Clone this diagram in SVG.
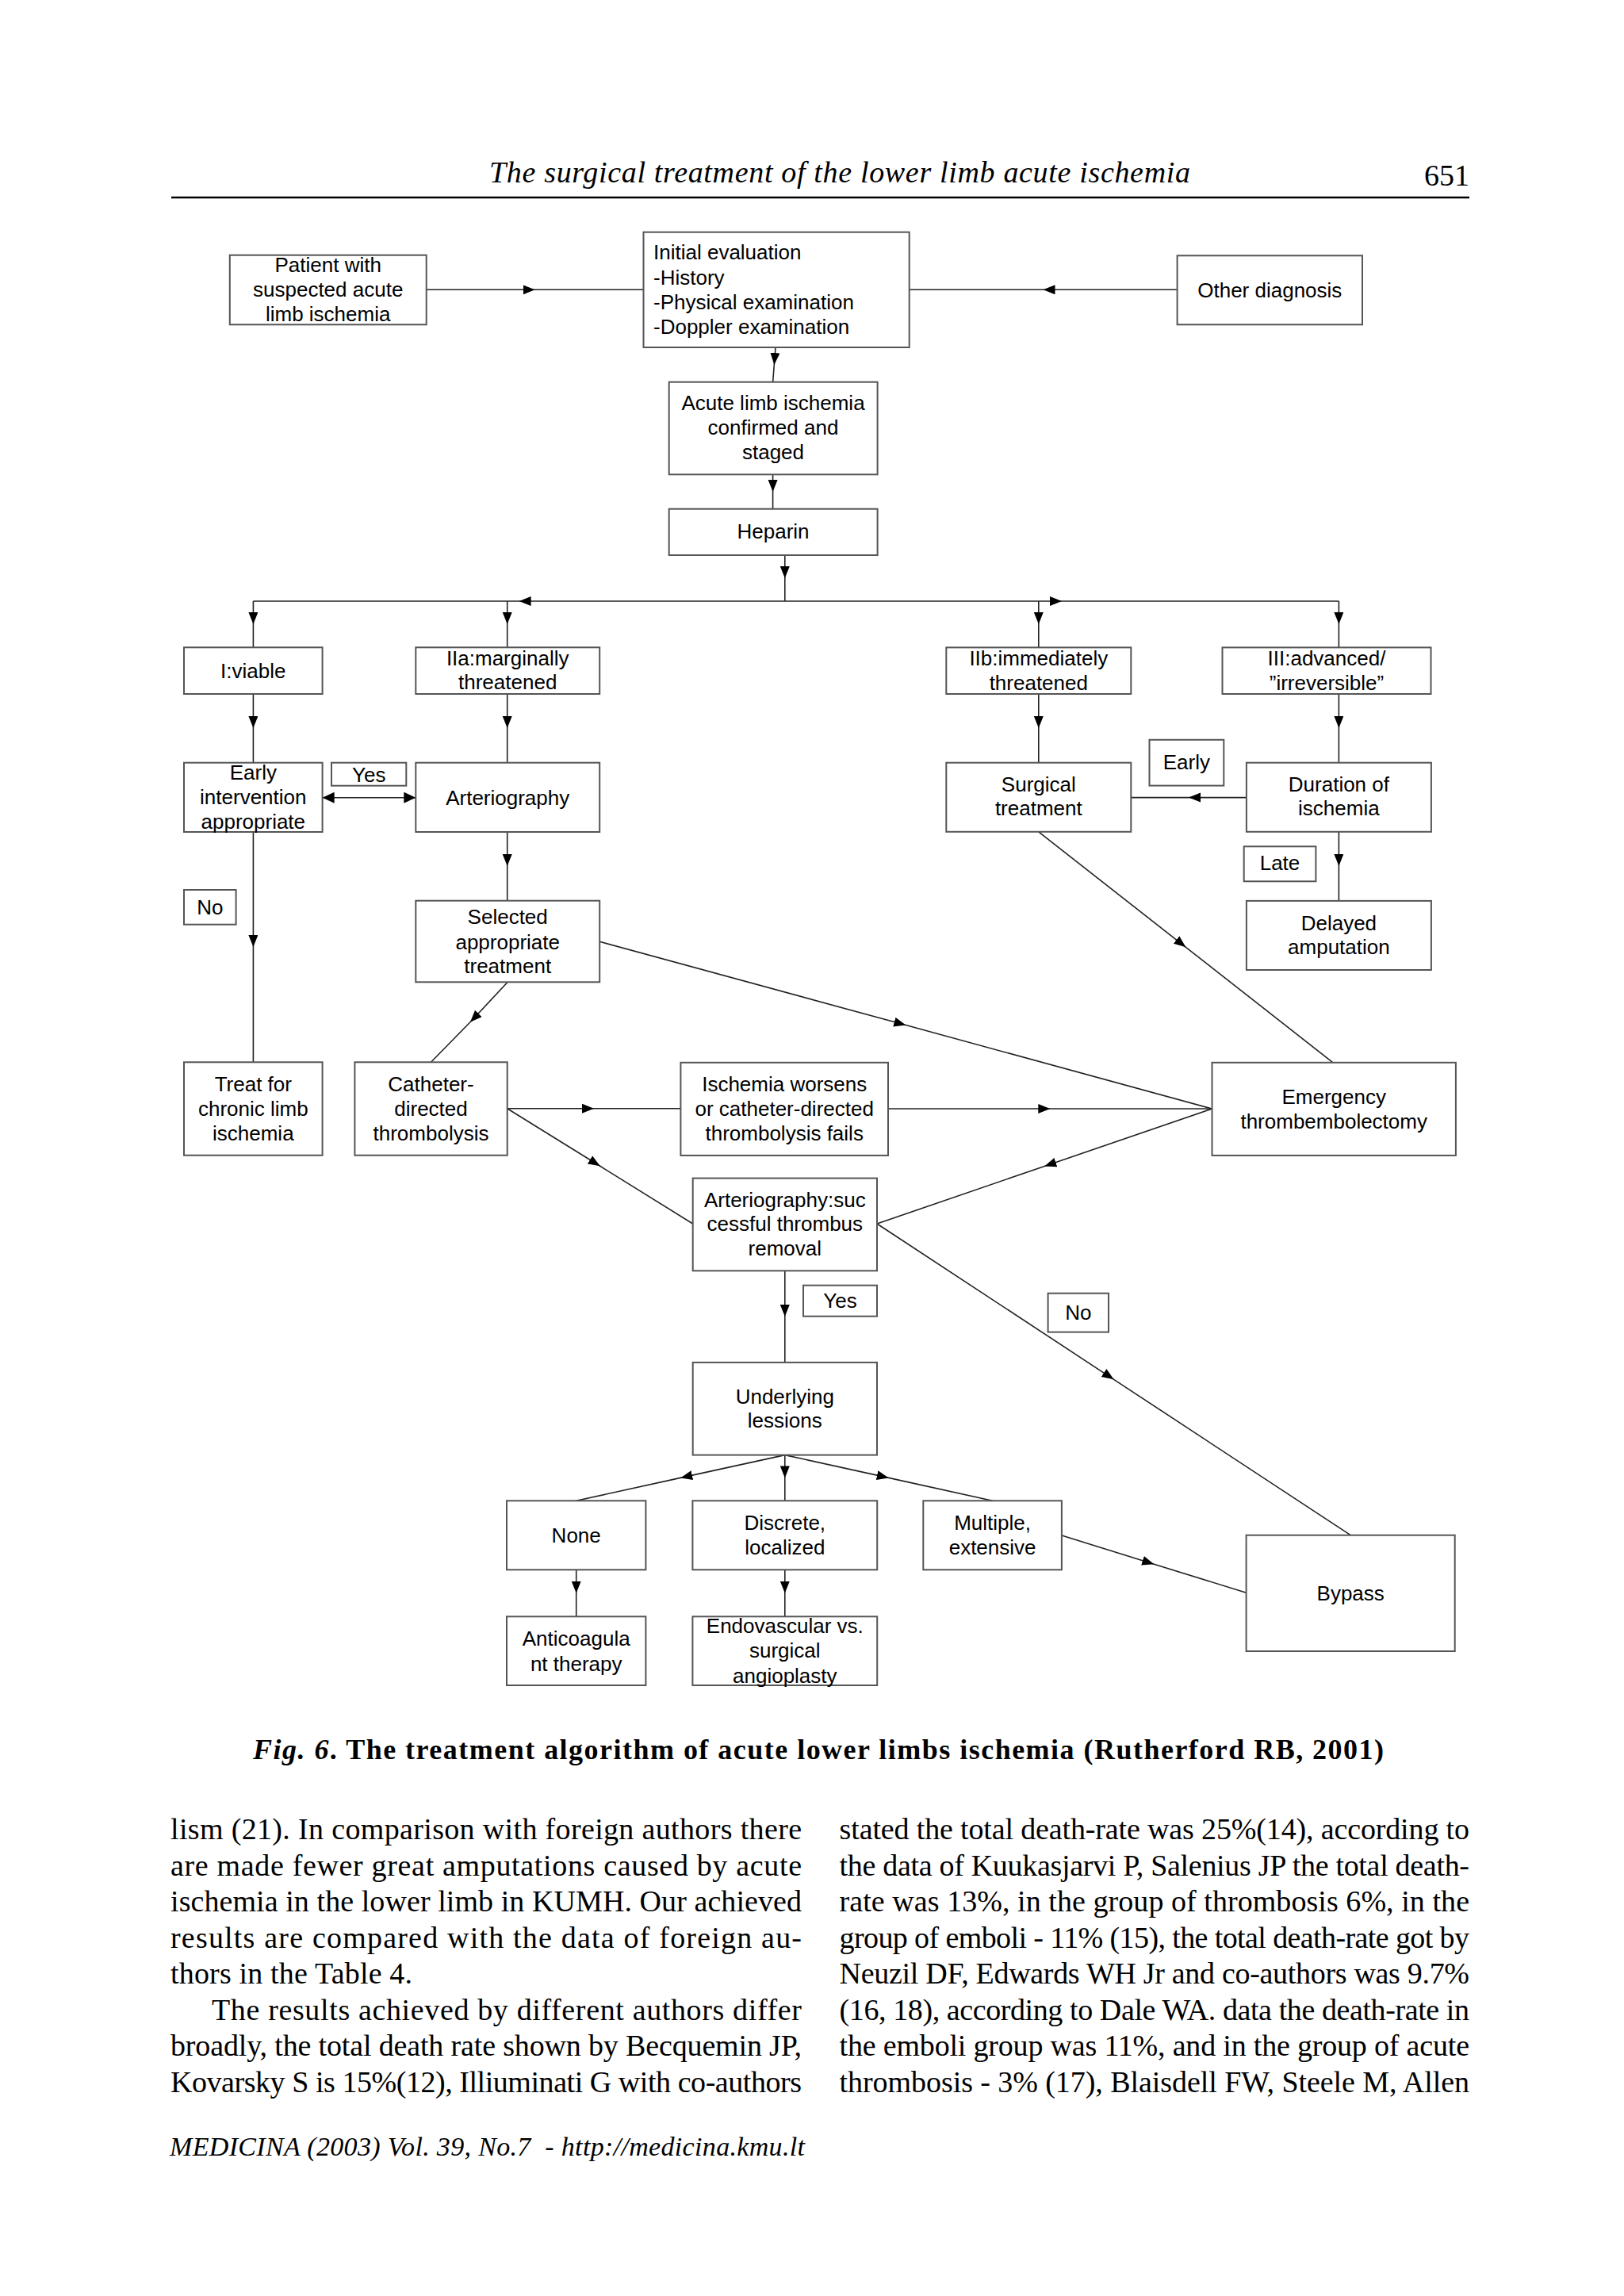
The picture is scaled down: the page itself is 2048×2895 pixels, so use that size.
<svg xmlns="http://www.w3.org/2000/svg" width="2048" height="2895" viewBox="0 0 2048 2895">
<style>
.box{fill:#fff;stroke:#555;stroke-width:2}
.c{fill:none;stroke:#222;stroke-width:1.6;marker-mid:url(#ah)}
.t{font-family:"Liberation Sans",Arial,sans-serif;font-size:26px;text-anchor:middle;fill:#000}
.tl{font-family:"Liberation Sans",Arial,sans-serif;font-size:26px;text-anchor:start;fill:#000}
.body{font-family:"Liberation Serif","Times New Roman",serif;font-size:38px;fill:#000}
</style>
<defs>
<marker id="ah" markerUnits="userSpaceOnUse" markerWidth="16" markerHeight="13" refX="15" refY="6" orient="auto"><path d="M0,0 L15,6 L0,12 z" fill="#000"/></marker>
<marker id="ah2" markerUnits="userSpaceOnUse" markerWidth="16" markerHeight="15" refX="15" refY="7" orient="auto-start-reverse"><path d="M0,0 L15,7 L0,14 z" fill="#000"/></marker>
</defs>
<rect width="2048" height="2895" fill="#fff"/>

<g id="page-header">
<text x="617" y="230" textLength="884" lengthAdjust="spacing" style="font-family:'Liberation Serif','Times New Roman',serif;font-style:italic;font-size:38px">The surgical treatment of the lower limb acute ischemia</text>
<text x="1853" y="234" text-anchor="end" style="font-family:'Liberation Serif','Times New Roman',serif;font-size:38px">651</text>
<line x1="216" y1="249" x2="1853" y2="249" stroke="#000" stroke-width="2.5"/>
</g>

<g id="connectors">
<path class="c" d="M537.7,365.3 L674.6,365.3 L811.5,365.3"/>
<path class="c" d="M1484.6,365.3 L1315.5,365.3 L1146.6,365.3"/>
<path class="c" d="M978,438 L976.3,460 L974.6,481.7"/>
<path class="c" d="M974.6,598.3 L974.6,620 L974.6,641.7"/>
<path class="c" d="M989.8,700 L989.8,729 L989.8,758"/>
<path class="c" d="M989.8,758 L654.6,758 L319.4,758"/>
<path class="c" d="M989.8,758 L1339,758 L1688.4,758"/>
<path class="c" d="M319.4,758 L319.4,787 L319.4,816.3"/>
<path class="c" d="M639.7,758 L639.7,787 L639.7,816.3"/>
<path class="c" d="M1309.8,758 L1309.8,787 L1309.8,816.4"/>
<path class="c" d="M1688.4,758 L1688.4,787 L1688.4,816.4"/>
<path class="c" d="M319.4,875 L319.4,918 L319.4,961.7"/>
<path class="c" d="M639.7,875 L639.7,918 L639.7,961.7"/>
<path class="c" d="M1309.8,875 L1309.8,918 L1309.8,961.7"/>
<path class="c" d="M1688.4,875 L1688.4,918 L1688.4,961.7"/>
<path d="M406.6,1005.7 L524.3,1005.7" fill="none" stroke="#222" stroke-width="1.6" marker-start="url(#ah2)" marker-end="url(#ah2)"/>
<path class="c" d="M1571.9,1005.6 L1499,1005.6 L1426.3,1005.6"/>
<path class="c" d="M1688.4,1048.8 L1688.4,1092 L1688.4,1135.9"/>
<path class="c" d="M319.4,1049 L319.4,1194 L319.4,1339.3"/>
<path class="c" d="M639.7,1049 L639.7,1092 L639.7,1135.7"/>
<path class="c" d="M640.2,1238.3 L593,1288.8 L543.5,1339.3"/>
<path class="c" d="M756.2,1187.3 L1142.3,1292.6 L1528.5,1398"/>
<path class="c" d="M1309.8,1048.8 L1495.4,1194.3 L1681,1339.8"/>
<path class="c" d="M639.7,1397.7 L749,1397.7 L858.4,1397.7"/>
<path class="c" d="M1120,1398 L1324.3,1398 L1528.5,1398"/>
<path class="c" d="M639.7,1397.7 L756.7,1470.3 L873.7,1543"/>
<path class="c" d="M1528.5,1398 L1317.2,1470.5 L1106,1543"/>
<path class="c" d="M989.8,1602.3 L989.8,1660 L989.8,1717.9"/>
<path class="c" d="M1106,1543 L1404.6,1739.3 L1703.2,1935.7"/>
<path class="c" d="M989.8,1834.6 L858.2,1863.4 L726.7,1892.3"/>
<path class="c" d="M989.8,1834.6 L989.8,1863.4 L989.8,1892.3"/>
<path class="c" d="M989.8,1834.6 L1120.7,1863.4 L1251.6,1892.3"/>
<path class="c" d="M1339,1936 L1455.3,1972.2 L1571.6,2008.3"/>
<path class="c" d="M726.7,1979.3 L726.7,2008.8 L726.7,2038.3"/>
<path class="c" d="M989.8,1979.3 L989.8,2008.8 L989.8,2038.3"/>
</g>

<g id="patient"><rect class="box" x="289.8" y="321.7" width="247.9" height="87.6"/><text class="t" x="413.7" y="342.5">Patient with</text><text class="t" x="413.7" y="374">suspected acute</text><text class="t" x="413.7" y="404.5">limb ischemia</text></g>
<g id="initial-evaluation"><rect class="box" x="811.5" y="292.7" width="335.2" height="145.3"/><text class="tl" x="824" y="327.3">Initial evaluation</text><text class="tl" x="824" y="359.3">-History</text><text class="tl" x="824" y="390.3">-Physical examination</text><text class="tl" x="824" y="421">-Doppler examination</text></g>
<g id="other-diagnosis"><rect class="box" x="1484.6" y="322.3" width="233.4" height="87"/><text class="t" x="1601.3" y="374.6">Other diagnosis</text></g>
<g id="acute-confirmed"><rect class="box" x="843.7" y="481.7" width="262.9" height="116.6"/><text class="t" x="975" y="517.3">Acute limb ischemia</text><text class="t" x="975" y="548.3">confirmed and</text><text class="t" x="975" y="579.3">staged</text></g>
<g id="heparin"><rect class="box" x="843.7" y="641.7" width="262.9" height="58.3"/><text class="t" x="975" y="679.3">Heparin</text></g>
<g id="viable"><rect class="box" x="232" y="816.3" width="174.6" height="58.7"/><text class="t" x="319.3" y="855">I:viable</text></g>
<g id="marginally"><rect class="box" x="524.3" y="816.3" width="231.9" height="58.7"/><text class="t" x="640.2" y="839.3">IIa:marginally</text><text class="t" x="640.2" y="869.3">threatened</text></g>
<g id="immediately"><rect class="box" x="1193.3" y="816.4" width="233" height="58.6"/><text class="t" x="1309.8" y="839.3">IIb:immediately</text><text class="t" x="1309.8" y="869.6">threatened</text></g>
<g id="advanced"><rect class="box" x="1541.5" y="816.4" width="263" height="58.6"/><text class="t" x="1673" y="839.3">III:advanced/</text><text class="t" x="1673" y="869.6">”irreversible”</text></g>
<g id="early-intervention"><rect class="box" x="232" y="961.7" width="174.6" height="87.3"/><text class="t" x="319.3" y="983.3">Early</text><text class="t" x="319.3" y="1014.3">intervention</text><text class="t" x="319.3" y="1045.3">appropriate</text></g>
<g id="label-yes-1"><rect class="box" x="418" y="961.7" width="94.3" height="29"/><text class="t" x="465.2" y="985.5">Yes</text></g>
<g id="arteriography"><rect class="box" x="524.3" y="961.7" width="231.9" height="87.3"/><text class="t" x="640.2" y="1014.7">Arteriography</text></g>
<g id="surgical"><rect class="box" x="1193.3" y="961.7" width="233" height="87.1"/><text class="t" x="1309.8" y="998">Surgical</text><text class="t" x="1309.8" y="1028.3">treatment</text></g>
<g id="label-early"><rect class="box" x="1449.5" y="932.8" width="93.8" height="57.8"/><text class="t" x="1496.4" y="970">Early</text></g>
<g id="duration"><rect class="box" x="1571.9" y="961.7" width="233" height="87.1"/><text class="t" x="1688.4" y="998">Duration of</text><text class="t" x="1688.4" y="1028.3">ischemia</text></g>
<g id="label-late"><rect class="box" x="1568.7" y="1067.3" width="90.7" height="44"/><text class="t" x="1614" y="1097.3">Late</text></g>
<g id="delayed"><rect class="box" x="1571.9" y="1135.9" width="233" height="87.1"/><text class="t" x="1688.4" y="1173">Delayed</text><text class="t" x="1688.4" y="1203.3">amputation</text></g>
<g id="label-no-1"><rect class="box" x="232" y="1122" width="65.6" height="43.7"/><text class="t" x="264.8" y="1153">No</text></g>
<g id="selected"><rect class="box" x="524.3" y="1135.7" width="231.9" height="102.6"/><text class="t" x="640.2" y="1165">Selected</text><text class="t" x="640.2" y="1196.6">appropriate</text><text class="t" x="640.2" y="1227">treatment</text></g>
<g id="treat-chronic"><rect class="box" x="232" y="1339.3" width="174.6" height="117.4"/><text class="t" x="319.3" y="1376">Treat for</text><text class="t" x="319.3" y="1407">chronic limb</text><text class="t" x="319.3" y="1437.6">ischemia</text></g>
<g id="catheter"><rect class="box" x="447.4" y="1339.3" width="192.3" height="117.4"/><text class="t" x="543.5" y="1376">Catheter-</text><text class="t" x="543.5" y="1407">directed</text><text class="t" x="543.5" y="1437.6">thrombolysis</text></g>
<g id="worsens"><rect class="box" x="858.4" y="1339.8" width="261.6" height="117.1"/><text class="t" x="989.2" y="1376.3">Ischemia worsens</text><text class="t" x="989.2" y="1407">or catheter-directed</text><text class="t" x="989.2" y="1437.5">thrombolysis fails</text></g>
<g id="emergency"><rect class="box" x="1528.5" y="1339.8" width="307.4" height="117.1"/><text class="t" x="1682.2" y="1391.6">Emergency</text><text class="t" x="1682.2" y="1423">thrombembolectomy</text></g>
<g id="success"><rect class="box" x="873.7" y="1485.6" width="232.3" height="116.7"/><text class="t" x="989.8" y="1521.7">Arteriography:suc</text><text class="t" x="989.8" y="1552.3">cessful thrombus</text><text class="t" x="989.8" y="1583">removal</text></g>
<g id="label-yes-2"><rect class="box" x="1013" y="1620.7" width="93" height="39"/><text class="t" x="1059.5" y="1649">Yes</text></g>
<g id="label-no-2"><rect class="box" x="1321.6" y="1630.7" width="76.4" height="48.9"/><text class="t" x="1359.8" y="1664.3">No</text></g>
<g id="underlying"><rect class="box" x="873.7" y="1717.9" width="232.3" height="116.7"/><text class="t" x="989.8" y="1769.7">Underlying</text><text class="t" x="989.8" y="1800.3">lessions</text></g>
<g id="none"><rect class="box" x="639" y="1892.3" width="175.4" height="87"/><text class="t" x="726.7" y="1944.6">None</text></g>
<g id="discrete"><rect class="box" x="873.4" y="1892.3" width="232.8" height="87"/><text class="t" x="989.8" y="1929.3">Discrete,</text><text class="t" x="989.8" y="1960">localized</text></g>
<g id="multiple"><rect class="box" x="1164.3" y="1892.3" width="174.6" height="87"/><text class="t" x="1251.6" y="1929.3">Multiple,</text><text class="t" x="1251.6" y="1960">extensive</text></g>
<g id="bypass"><rect class="box" x="1571.6" y="1935.7" width="263.1" height="146.3"/><text class="t" x="1703.2" y="2018.3">Bypass</text></g>
<g id="anticoagulant"><rect class="box" x="639" y="2038.3" width="175.4" height="86.7"/><text class="t" x="726.7" y="2075.3">Anticoagula</text><text class="t" x="726.7" y="2106.6">nt therapy</text></g>
<g id="endovascular"><rect class="box" x="873.4" y="2038.3" width="232.8" height="86.7"/><text class="t" x="989.8" y="2059.3">Endovascular vs.</text><text class="t" x="989.8" y="2090.3">surgical</text><text class="t" x="989.8" y="2122">angioplasty</text></g>

<g id="caption">
<text x="319" y="2218" textLength="1426" lengthAdjust="spacing" style="font-family:'Liberation Serif','Times New Roman',serif;font-size:36px;font-weight:bold"><tspan font-style="italic">Fig. 6</tspan>. The treatment algorithm of acute lower limbs ischemia (Rutherford RB, 2001)</text>
</g>

<g id="body-text">
<text class="body" x="215" y="2319" textLength="796" lengthAdjust="spacing">lism (21). In comparison with foreign authors there</text>
<text class="body" x="215" y="2364.5" textLength="796" lengthAdjust="spacing">are made fewer great amputations caused by acute</text>
<text class="body" x="215" y="2410" textLength="796" lengthAdjust="spacing">ischemia in the lower limb in KUMH. Our achieved</text>
<text class="body" x="215" y="2455.5" textLength="796" lengthAdjust="spacing">results are compared with the data of foreign au-</text>
<text class="body" x="215" y="2501" textLength="305" lengthAdjust="spacing">thors in the Table 4.</text>
<text class="body" x="267" y="2546.5" textLength="744" lengthAdjust="spacing">The results achieved by different authors differ</text>
<text class="body" x="215" y="2592" textLength="796" lengthAdjust="spacing">broadly, the total death rate shown by Becquemin JP,</text>
<text class="body" x="215" y="2637.5" textLength="796" lengthAdjust="spacing">Kovarsky S is 15%(12), Illiuminati G with co-authors</text>
<text class="body" x="1058.6" y="2319" textLength="794.4" lengthAdjust="spacing">stated the total death-rate was 25%(14), according to</text>
<text class="body" x="1058.6" y="2364.5" textLength="794.4" lengthAdjust="spacing">the data of Kuukasjarvi P, Salenius JP the total death-</text>
<text class="body" x="1058.6" y="2410" textLength="794.4" lengthAdjust="spacing">rate was 13%, in the group of thrombosis 6%, in the</text>
<text class="body" x="1058.6" y="2455.5" textLength="794.4" lengthAdjust="spacing">group of emboli - 11% (15), the total death-rate got by</text>
<text class="body" x="1058.6" y="2501" textLength="794.4" lengthAdjust="spacing">Neuzil DF, Edwards WH Jr and co-authors was 9.7%</text>
<text class="body" x="1058.6" y="2546.5" textLength="794.4" lengthAdjust="spacing">(16, 18), according to Dale WA. data the death-rate in</text>
<text class="body" x="1058.6" y="2592" textLength="794.4" lengthAdjust="spacing">the emboli group was 11%, and in the group of acute</text>
<text class="body" x="1058.6" y="2637.5" textLength="794.4" lengthAdjust="spacing">thrombosis - 3% (17), Blaisdell FW, Steele M, Allen</text>
</g>

<g id="page-footer">
<text x="214" y="2718" textLength="801" lengthAdjust="spacing" style="font-family:'Liberation Serif','Times New Roman',serif;font-style:italic;font-size:34px">MEDICINA (2003) Vol. 39, No.7 &#160;- http://medicina.kmu.lt</text>
</g>
</svg>
